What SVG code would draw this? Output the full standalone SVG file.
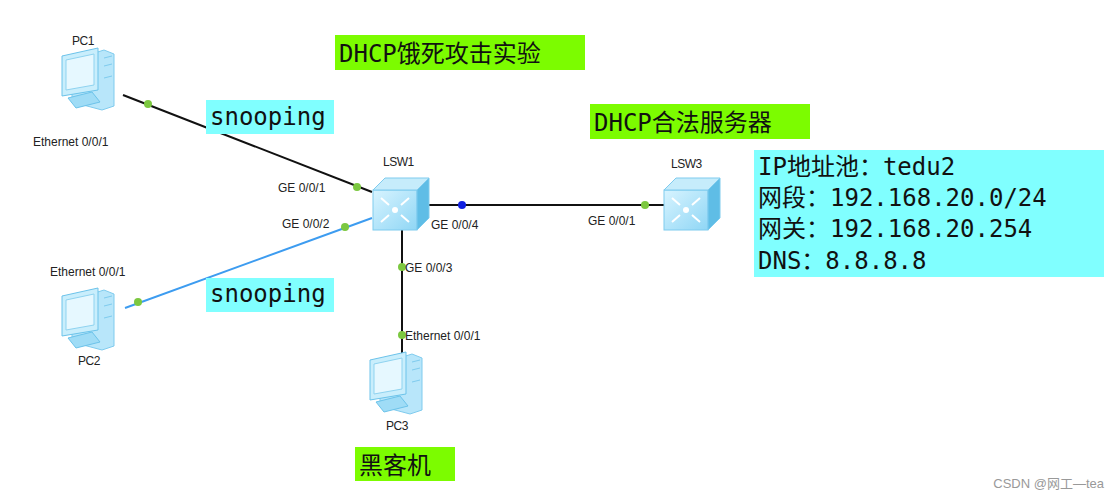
<svg xmlns="http://www.w3.org/2000/svg" width="1119" height="501" viewBox="0 0 1119 501">
<style>
.lbl{font-family:"Liberation Sans",Arial,sans-serif;font-size:12px;fill:#222}
.pl{font-family:"Liberation Sans",Arial,sans-serif;font-size:12px;fill:#222;letter-spacing:-0.5px}
.big{font-family:"DejaVu Sans Mono","Noto Sans CJK SC",monospace;font-size:24px;fill:#111}
.g{fill:#7cfc00}.c{fill:#80ffff}
.dot{fill:#7cc840}
</style>
<defs>
<linearGradient id="sw" x1="0" y1="0" x2="1" y2="1"><stop offset="0" stop-color="#d8f4ff"/><stop offset="1" stop-color="#8fd6f5"/></linearGradient>
<g id="pc">
<path d="M12,12 L44,2 L54,6 L54,58 L42,62 L12,54 Z" fill="#b8e6fa" stroke="#7fcbee"/>
<path d="M2,8 L38,0 L38,42 L2,48 Z" fill="#c9eefc" stroke="#6cc3ea"/>
<path d="M6,12 L34,6 L34,37 L6,42 Z" fill="#e6f8ff" stroke="#8fd3f0"/>
<path d="M8,50 L32,44 L40,54 L16,60 Z" fill="#9fdcf6" stroke="#6cc3ea"/>
<path d="M44,10 L52,8 M44,18 L52,16 M44,30 L52,28" stroke="#7fcbee"/>
</g>
<g id="sw1">
<rect x="0" y="12" width="44" height="40" fill="url(#sw)" stroke="#7fcbee"/>
<path d="M0,12 L12,0 L56,0 L44,12 Z" fill="#c6ecfb" stroke="#7fcbee"/>
<path d="M44,12 L56,0 L56,40 L44,52 Z" fill="#5fbde6" stroke="#7fcbee"/>
<circle cx="22" cy="32" r="3" fill="#fff"/>
<path d="M8,20 L16,27 M36,20 L28,27 M8,44 L16,37 M36,44 L28,37" stroke="#fff" stroke-width="2"/>
</g>
</defs>
<rect width="1119" height="501" fill="#fff"/>
<g id="connectors">
<line x1="123" y1="95" x2="372" y2="192" stroke="#111" stroke-width="2"/>
<line x1="125" y1="308" x2="372" y2="218" stroke="#3d9cf0" stroke-width="2"/>
<line x1="402" y1="230" x2="402" y2="356" stroke="#111" stroke-width="2"/>
<line x1="428" y1="205" x2="664" y2="205" stroke="#111" stroke-width="2"/>
<circle class="dot" cx="148" cy="104" r="4"/>
<circle class="dot" cx="357" cy="187" r="4"/>
<circle class="dot" cx="345" cy="227" r="4"/>
<circle class="dot" cx="138" cy="302" r="4"/>
<circle cx="462" cy="205" r="4" fill="#1020e0"/>
<circle class="dot" cx="645" cy="205" r="4"/>
<circle class="dot" cx="402" cy="267" r="4"/>
<circle class="dot" cx="402" cy="335" r="4"/>
<text class="lbl" x="278" y="192">GE 0/0/1</text>
<text class="lbl" x="282" y="228">GE 0/0/2</text>
<text class="lbl" x="431" y="229">GE 0/0/4</text>
<text class="lbl" x="588" y="225">GE 0/0/1</text>
<text class="lbl" x="405" y="272">GE 0/0/3</text>
<text class="lbl" x="405" y="340">Ethernet 0/0/1</text>
<text class="lbl" x="33" y="146">Ethernet 0/0/1</text>
<text class="lbl" x="50" y="276">Ethernet 0/0/1</text>
</g>
<g id="PC1"><use href="#pc" x="60" y="48"/><text class="pl" x="72" y="45">PC1</text></g>
<g id="PC2"><use href="#pc" x="60" y="288"/><text class="pl" x="78" y="365">PC2</text></g>
<g id="PC3"><use href="#pc" x="368" y="352"/><text class="pl" x="386" y="430">PC3</text></g>
<g id="LSW1"><use href="#sw1" x="373" y="178"/><text class="pl" x="383" y="166">LSW1</text></g>
<g id="LSW3"><use href="#sw1" x="664" y="178"/><text class="pl" x="671" y="168">LSW3</text></g>
<g id="notes">
<rect class="g" x="335" y="35" width="250" height="35"/>
<text class="big" x="339" y="62">DHCP饿死攻击实验</text>
<rect class="g" x="590" y="104" width="220" height="35"/>
<text class="big" x="594" y="131">DHCP合法服务器</text>
<rect class="c" x="206" y="100" width="128" height="34"/>
<text class="big" x="210" y="125">snooping</text>
<rect class="c" x="206" y="278" width="128" height="34"/>
<text class="big" x="210" y="302">snooping</text>
<rect class="c" x="754" y="150" width="350" height="127"/>
<text class="big" x="758" y="175">IP地址池：tedu2</text>
<text class="big" x="758" y="206">网段：192.168.20.0/24</text>
<text class="big" x="758" y="237">网关：192.168.20.254</text>
<text class="big" x="758" y="269">DNS：8.8.8.8</text>
<rect class="g" x="355" y="447" width="100" height="34"/>
<text class="big" x="359" y="474">黑客机</text>
</g>
<text x="1104" y="488" text-anchor="end" style="font-family:'Liberation Sans','Noto Sans CJK SC',sans-serif;font-size:13px;fill:#999">CSDN @网工—tea</text>
</svg>
